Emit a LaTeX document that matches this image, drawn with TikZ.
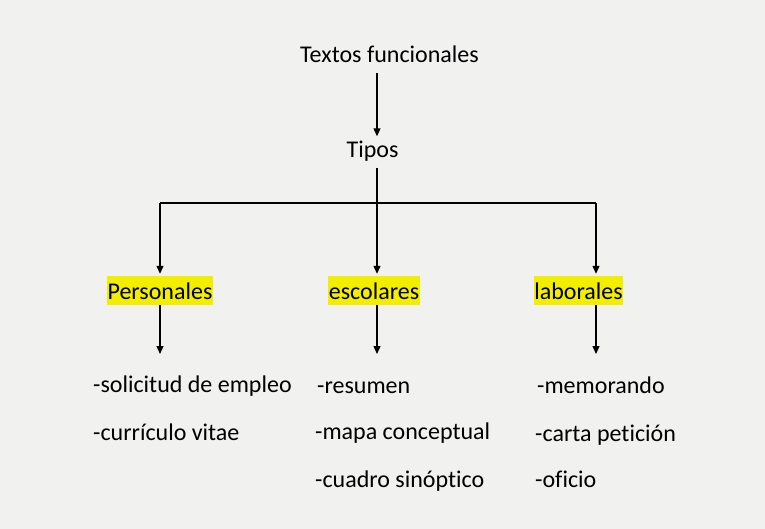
\documentclass[tikz,border=0pt]{standalone}
\usepackage{fontspec}
\setmainfont{Carlito}[Ligatures=NoCommon]
\usetikzlibrary{arrows.meta}
\definecolor{bgc}{HTML}{F1F1F0}
\definecolor{hly}{HTML}{F2EE00}
\tikzset{
  lbl/.style={inner sep=0pt, font=\fontsize{24}{28}\selectfont},
  hl/.style={fill=hly, inner xsep=0.5pt, inner ysep=6pt, text height=17pt, text depth=0pt, font=\fontsize{24}{28}\selectfont},
  con/.style={line width=1.2pt, draw=black},
  arr/.style={con, -{Triangle[length=8pt,width=7pt]}}
}
\begin{document}
\begin{tikzpicture}[x=1pt,y=-1pt]
\fill[bgc] (0,0) rectangle (765,529);
\useasboundingbox (0,0) rectangle (765,529);
% top nodes
\node[lbl, anchor=base] (T) at (389.5,63) {Textos funcionales};
\node[lbl, anchor=base] (Tipos) at (372.5,158) {Tipos};
% junction coordinates
\coordinate (jm) at (377,203);
\coordinate (jl) at (160,203);
\coordinate (jr) at (596,203);
% category boxes
\node[hl, anchor=base] (P) at (160,299) {Personales};
\node[hl, anchor=base] (E) at (374,299) {escolares};
\node[hl, anchor=base] (L) at (578.5,299) {laborales};
% lower arrow ends
\coordinate (b1) at (160,354);
\coordinate (b2) at (377,354);
\coordinate (b3) at (596,354);
% lists
\node[lbl, anchor=base west] (p1) at (93,392) {-solicitud de empleo};
\node[lbl, anchor=base west] (p2) at (93,440) {-currículo vitae};
\node[lbl, anchor=base west] (e1) at (317,393) {-resumen};
\node[lbl, anchor=base west] (e2) at (315,439) {-mapa conceptual};
\node[lbl, anchor=base west] (e3) at (315,487) {-cuadro sinóptico};
\node[lbl, anchor=base west] (l1) at (537,393) {-memorando};
\node[lbl, anchor=base west] (l2) at (535,441) {-carta petición};
\node[lbl, anchor=base west] (l3) at (535,487) {-oficio};
% connectors
\draw[arr, shorten <=10pt, shorten >=5pt] (T.south -| jm) -- (Tipos.north -| jm);
\draw[con, shorten <=5.5pt] (Tipos.south -| jm) -- (jm);
\draw[con] (jl) -- (jr);
\draw[arr, shorten >=2pt] (jl) -- (P.north -| jl);
\draw[arr, shorten >=2pt] (jm) -- (E.north -| jm);
\draw[arr, shorten >=2pt] (jr) -- (L.north -| jr);
\draw[arr] (P.south -| b1) -- (b1);
\draw[arr] (E.south -| b2) -- (b2);
\draw[arr] (L.south -| b3) -- (b3);
\end{tikzpicture}
\end{document}
